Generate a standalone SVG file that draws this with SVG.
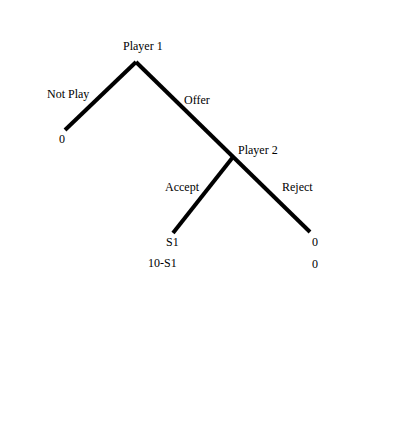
<svg xmlns="http://www.w3.org/2000/svg" width="416" height="436" viewBox="0 0 416 436">
<style>
.e{stroke:#000;stroke-width:4;fill:none;stroke-linecap:butt}
text{font-family:"Liberation Serif","Times New Roman",serif;font-size:12px;fill:#000}
</style>
<rect width="416" height="436" fill="#fff"/>
<g id="connectors">
<line class="e" x1="136" y1="62" x2="65" y2="130"/>
<line class="e" x1="136" y1="62" x2="310" y2="232"/>
<line class="e" x1="233" y1="157" x2="173" y2="233"/>
</g>
<g id="player1"><text x="123" y="50">Player 1</text></g>
<g id="player2"><text x="238" y="154">Player 2</text></g>
<g id="labels">
<text x="47" y="98">Not Play</text>
<text x="184" y="104">Offer</text>
<text x="165" y="191">Accept</text>
<text x="282" y="191">Reject</text>
</g>
<g id="leaf-notplay"><text x="59" y="143">0</text></g>
<g id="leaf-accept"><text x="166" y="246">S1</text><text x="148" y="267">10-S1</text></g>
<g id="leaf-reject"><text x="312" y="246">0</text><text x="312" y="268">0</text></g>
</svg>
